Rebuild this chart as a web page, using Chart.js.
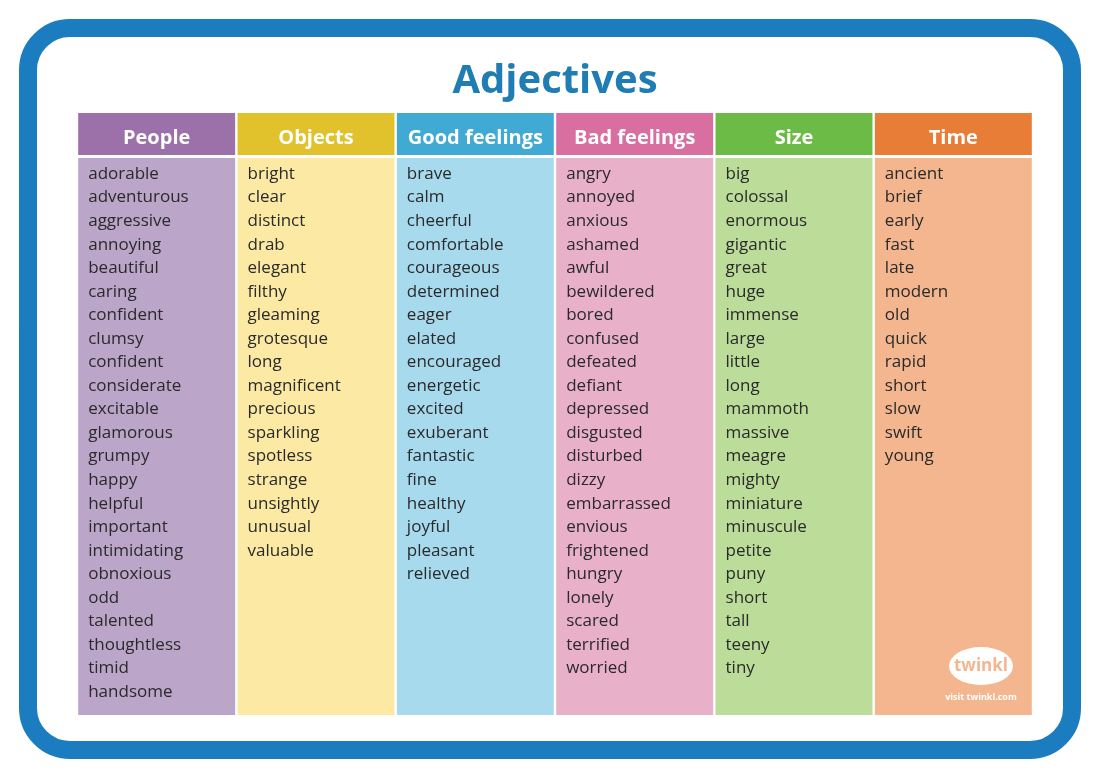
<!DOCTYPE html>
<html>
<head>
<meta charset="utf-8">
<script src="https://cdn.jsdelivr.net/npm/chart.js@4"></script>
<style>
  html, body { margin: 0; padding: 0; background: #fff; }
  #wrap { width: 1100px; height: 778px; }
</style>
</head>
<body>
<div id="wrap"><canvas id="board"></canvas></div>
<script>
// Adjective word board drawn as floating bars + text

const categories = ['People', 'Objects', 'Good feelings', 'Bad feelings', 'Size', 'Time'];
const headerColors = ['#9c70a8', '#e2c22c', '#40a9d4', '#d96fa1', '#6dbb47', '#e87d38'];
const bodyColors = ['#bba5c8', '#fbe9a4', '#a8daee', '#e9b0ca', '#bcdc9a', '#f3b68e'];

const people = ['adorable', 'adventurous', 'aggressive', 'annoying', 'beautiful', 'caring', 'confident',
  'clumsy', 'confident', 'considerate', 'excitable', 'glamorous', 'grumpy', 'happy', 'helpful',
  'important', 'intimidating', 'obnoxious', 'odd', 'talented', 'thoughtless', 'timid', 'handsome'];
const objects = ['bright', 'clear', 'distinct', 'drab', 'elegant', 'filthy', 'gleaming', 'grotesque',
  'long', 'magnificent', 'precious', 'sparkling', 'spotless', 'strange', 'unsightly', 'unusual', 'valuable'];
const goodFeelings = ['brave', 'calm', 'cheerful', 'comfortable', 'courageous', 'determined', 'eager',
  'elated', 'encouraged', 'energetic', 'excited', 'exuberant', 'fantastic', 'fine', 'healthy',
  'joyful', 'pleasant', 'relieved'];
const badFeelings = ['angry', 'annoyed', 'anxious', 'ashamed', 'awful', 'bewildered', 'bored', 'confused',
  'defeated', 'defiant', 'depressed', 'disgusted', 'disturbed', 'dizzy', 'embarrassed', 'envious',
  'frightened', 'hungry', 'lonely', 'scared', 'terrified', 'worried'];
const size = ['big', 'colossal', 'enormous', 'gigantic', 'great', 'huge', 'immense', 'large', 'little',
  'long', 'mammoth', 'massive', 'meagre', 'mighty', 'miniature', 'minuscule', 'petite', 'puny',
  'short', 'tall', 'teeny', 'tiny'];
const time = ['ancient', 'brief', 'early', 'fast', 'late', 'modern', 'old', 'quick', 'rapid', 'short',
  'slow', 'swift', 'young'];
const wordLists = [people, objects, goodFeelings, badFeelings, size, time];

// row units: word i sits at y = i
const headerSpan = [-2.59, -0.81];
const bodySpan = [-0.68, 22.97];

const boardPlugin = {
  id: 'board',
  beforeDraw(chart) {
    const c = chart.ctx;
    c.save();
    c.fillStyle = '#fff';
    c.fillRect(0, 0, chart.width, chart.height);
    // blue rounded frame
    c.strokeStyle = '#1b7dbf';
    c.lineWidth = 18;
    c.beginPath();
    c.roundRect(28, 28, 1044, 722, 42);
    c.stroke();
    // title
    c.fillStyle = '#1f7db4';
    c.font = 'bold 40px "Open Sans", sans-serif';
    c.textAlign = 'center';
    c.textBaseline = 'middle';
    c.fillText('Adjectives', 555, 82);
    c.restore();
  },
  afterDatasetsDraw(chart) {
    const c = chart.ctx;
    const xs = chart.scales.x, ys = chart.scales.y;
    const meta = chart.getDatasetMeta(1);
    c.save();
    c.textBaseline = 'middle';
    categories.forEach((cat, i) => {
      const bar = meta.data[i];
      const left = bar.x - bar.width / 2;
      c.fillStyle = '#fff';
      c.font = 'bold 20px "Open Sans", sans-serif';
      c.textAlign = 'center';
      c.fillText(cat, xs.getPixelForValue(i), ys.getPixelForValue((headerSpan[0] + headerSpan[1]) / 2) + 4);
      c.fillStyle = '#2a2a2a';
      c.font = '17px "Open Sans", sans-serif';
      c.textAlign = 'left';
      wordLists[i].forEach((w, r) => c.fillText(w, left + 10, ys.getPixelForValue(r)));
    });
    // twinkl badge
    c.fillStyle = '#fff';
    c.beginPath();
    c.ellipse(981, 666, 32, 19, 0, 0, Math.PI * 2);
    c.fill();
    c.fillStyle = '#f3b68e';
    c.font = 'bold 17px "Open Sans", sans-serif';
    c.textAlign = 'center';
    c.fillText('twinkl', 981, 666);
    c.fillStyle = '#fff';
    c.font = 'bold 9px "Open Sans", sans-serif';
    c.fillText('visit twinkl.com', 981, 697);
    c.restore();
  }
};

new Chart(document.getElementById('board'), {
  type: 'bar',
  data: {
    labels: categories,
    datasets: [
      { data: categories.map(() => headerSpan), backgroundColor: headerColors },
      { data: categories.map(() => bodySpan), backgroundColor: bodyColors }
    ]
  },
  options: {
    responsive: true,
    maintainAspectRatio: false,
    animation: false,
    layout: { padding: { left: 77, right: 67, top: 113, bottom: 63 } },
    datasets: { bar: { grouped: false, barPercentage: 0.985, categoryPercentage: 1 } },
    plugins: { legend: { display: false }, tooltip: { enabled: false } },
    scales: {
      x: { display: false },
      y: { display: false, reverse: true, min: headerSpan[0], max: bodySpan[1] }
    }
  },
  plugins: [boardPlugin]
});
</script>
</body>
</html>
